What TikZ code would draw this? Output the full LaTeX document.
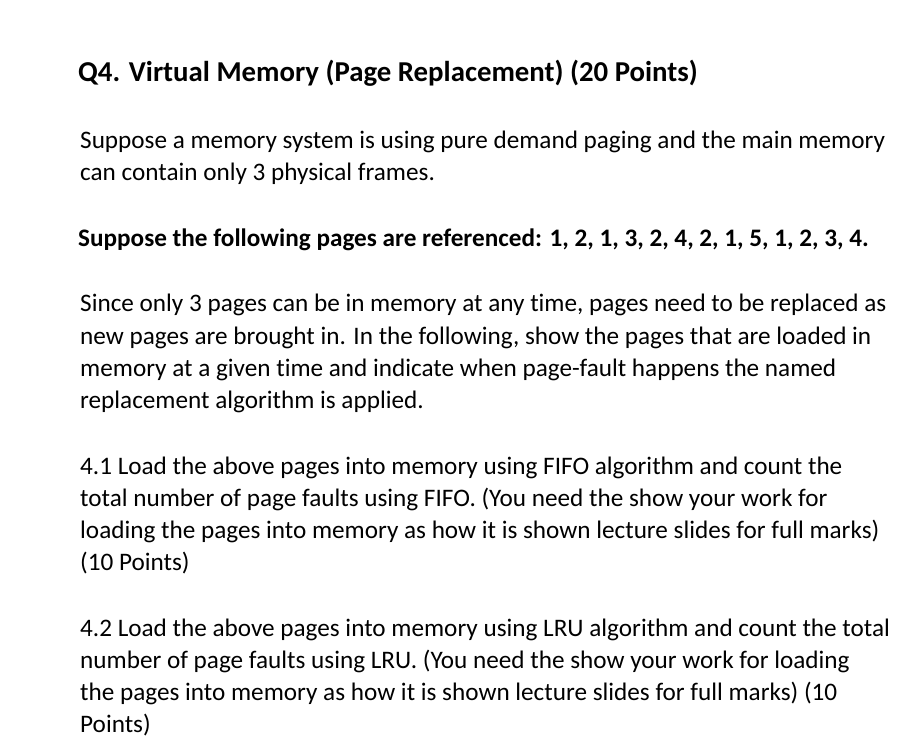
\documentclass[tikz,border=0pt]{standalone}
\usepackage{fontspec}
\setmainfont{Carlito}[Ligatures=NoCommon]
\begin{document}
\begin{tikzpicture}[x=1pt,y=-1pt,
  ln/.style={anchor=base west,inner sep=0pt,font=\fontsize{25.2}{30}\selectfont},
  bl/.style={ln,font=\fontsize{25.2}{30}\selectfont\bfseries},
  tt/.style={ln,font=\fontsize{28.8}{34}\selectfont\bfseries}]
\fill[white] (0,0) rectangle (911,750);
\node[tt] (t) at (78,81) {Q4. Virtual Memory (Page Replacement) (20 Points)};
\node[ln] (a1) at (80,148) {Suppose a memory system is using pure demand paging and the main memory};
\node[ln] (a2) at (80,180) {can contain only 3 physical frames.};
\node[bl] (b1) at (78,246) {Suppose the following pages are referenced: 1, 2, 1, 3, 2, 4, 2, 1, 5, 1, 2, 3, 4.};
\node[ln] (c1) at (80,311) {Since only 3 pages can be in memory at any time, pages need to be replaced as};
\node[ln] (c2) at (80,344) {new pages are brought in. In the following, show the pages that are loaded in};
\node[ln] (c3) at (80,376) {memory at a given time and indicate when page-fault happens the named};
\node[ln] (c4) at (80,408) {replacement algorithm is applied.};
\node[ln] (d1) at (80,474) {4.1 Load the above pages into memory using FIFO algorithm and count the};
\node[ln] (d2) at (80,506) {total number of page faults using FIFO. (You need the show your work for};
\node[ln] (d3) at (80,538) {loading the pages into memory as how it is shown lecture slides for full marks)};
\node[ln] (d4) at (80,570) {(10 Points)};
\node[ln] (e1) at (80,636) {4.2 Load the above pages into memory using LRU algorithm and count the total};
\node[ln] (e2) at (80,668) {number of page faults using LRU. (You need the show your work for loading};
\node[ln] (e3) at (80,700) {the pages into memory as how it is shown lecture slides for full marks) (10};
\node[ln] (e4) at (80,732) {Points)};
\end{tikzpicture}
\end{document}
